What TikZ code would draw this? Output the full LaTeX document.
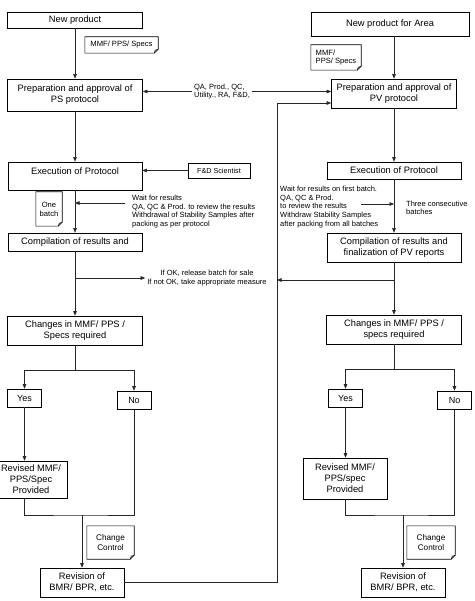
\documentclass[tikz,border=0pt]{standalone}
\usepackage{fontspec}
\setmainfont{Liberation Sans}
\usetikzlibrary{arrows.meta, positioning, calc}

\begin{document}
\begin{tikzpicture}[
        x=1pt, y=-1pt, % pixel grid, y downwards
        box/.style={rectangle, draw=black, line width=0.7pt, align=center, inner sep=1pt, font=\fontsize{9.3}{11}\selectfont},
        choice/.style={box, minimum width=34pt, minimum height=18pt, font=\fontsize{9}{11}\selectfont},
        notebox/.style={align=center, inner sep=1pt, font=\fontsize{7.6}{8.8}\selectfont},
        remark/.style={align=left, inner sep=2pt, font=\fontsize{7.5}{8.6}\selectfont},
        arrow/.style={line width=0.6pt, draw=black!85, -{Triangle[length=4.5pt, width=3.6pt]}},
        link/.style={line width=0.6pt, draw=black!85}
    ]
    \useasboundingbox (0,0) rectangle (474,601);
    \clip (0,0) rectangle (474,601);

    % --- Nodes: PS (left) ---
    \node[box, minimum width=135pt, minimum height=16pt] (newl) at (75,20) {New product};
    \node[notebox, minimum width=73pt, minimum height=16pt] (mmfl) at (121.5,45) {MMF/ PPS/ Specs};
    \node[box, minimum width=135pt, minimum height=32pt] (prepl) at (75,95) {Preparation and approval of\\PS protocol};
    \node[box, minimum width=134pt, minimum height=28pt, text depth=9pt] (execl) at (75,176) {Execution of Protocol};
    \node[box, minimum width=62pt, minimum height=15pt, line width=0.6pt, font=\fontsize{7.2}{8.6}\selectfont] (fdsci) at (219,170.5) {F\&D Scientist};
    \node[notebox, minimum width=26pt, minimum height=34pt] (onebatch) at (49,209) {One\\batch};
    \node[remark, anchor=west] (waitl) at (130,211.5) {Wait for results\\QA, QC \& Prod. to review the results\\ Withdrawal of Stability Samples after\\packing as per protocol};
    \node[box, minimum width=134pt, minimum height=18pt] (compl) at (75,242) {Compilation of results and};
    \node[remark, align=center] (okl) at (207,278) {If OK, release batch for sale\\If not OK, take appropriate measure};
    \node[box, minimum width=135pt, minimum height=29pt] (changel) at (75,330.5) {Changes in MMF/ PPS /\\Specs required};
    \node[choice] (yesl) at (24.5,398) {Yes};
    \node[choice] (nol) at (134,400) {No};
    \node[box, minimum width=72pt, minimum height=37pt] (revl) at (31,479.5) {Revised MMF/\\PPS/Spec\\Provided};
    \node[notebox, minimum width=47pt, minimum height=33pt, font=\fontsize{8.2}{9.6}\selectfont] (ccl) at (110.5,542.5) {Change\\Control};
    \node[box, minimum width=84pt, minimum height=29pt] (revbl) at (82,582.5) {Revision of\\BMR/ BPR, etc.};

    % --- Nodes: PV (right) ---
    \node[box, minimum width=158pt, minimum height=24pt] (newr) at (390,24) {New product for Area};
    \node[notebox, align=left, minimum width=50pt, minimum height=25pt] (mmfr) at (336,57.5) {MMF/\\PPS/ Specs};
    \node[box, minimum width=125pt, minimum height=29pt] (prepr) at (394,93.5) {Preparation and approval of\\PV protocol};
    \node[remark] (qa) at (222,91.5) {QA, Prod., QC,\\Utility., RA, F\&D,};
    \node[box, minimum width=134pt, minimum height=17pt] (execr) at (394,170.5) {Execution of Protocol};
    \node[remark, anchor=west] (waitr) at (278,207) {Wait for results on first batch.\\QA, QC \& Prod.\\to review the results\\Withdraw Stability Samples\\after packing from all batches};
    \node[remark, anchor=west] (three) at (404,208) {Three consecutive\\batches};
    \node[box, minimum width=134pt, minimum height=29pt] (comprr) at (394,247.5) {Compilation of results and\\finalization of PV reports};
    \node[box, minimum width=135pt, minimum height=29pt] (changer) at (394,329.5) {Changes in MMF/ PPS /\\specs required};
    \node[choice] (yesr) at (345.5,398) {Yes};
    \node[choice] (nor) at (454.5,400) {No};
    \node[box, minimum width=84pt, minimum height=41pt] (revr) at (345,478.5) {Revised MMF/\\PPS/spec\\Provided};
    \node[notebox, minimum width=48pt, minimum height=33pt, font=\fontsize{8.2}{9.6}\selectfont] (ccr) at (431,542.5) {Change\\Control};
    \node[box, minimum width=84pt, minimum height=29pt] (revbr) at (403,582.5) {Revision of\\BMR/ BPR, etc.};

    % note outlines with folded corner
    \foreach \n in {mmfl, mmfr, onebatch, ccl, ccr} {
        \draw[line width=0.6pt] (\n.north west) -- (\n.north east) -- ($(\n.south east)+(0,-4)$)
            -- ($(\n.south east)+(-4,0)$) -- (\n.south west) -- cycle;
        \draw[line width=0.5pt] ($(\n.south east)+(-4,0)$) -- ($(\n.south east)+(-3,-3)$) -- ($(\n.south east)+(0,-4)$);
    }

    \coordinate (wl) at (125,203);
    \coordinate (wr) at (361,204);
    \coordinate (jr) at (394,280);
    \coordinate (lp) at (277,103);
    \coordinate (ml) at (82,515);
    \coordinate (mr) at (403,515);

    % --- Edges: left ---
    \draw[arrow] (newl.south) -- (prepl.north);
    \draw[arrow] (qa.west) -- (qa.west -| prepl.east);
    \draw[arrow] (prepl.south) -- (execl.north);
    \draw[arrow] (fdsci.west) -- (fdsci.west -| execl.east);
    \draw[arrow] (execl.south) -- (compl.north);
    \draw[arrow] (wl) -- (wl -| execl.south);
    \draw[arrow] (compl.south) -- (changel.north);
    \draw[arrow] (okl.west -| compl.south) -- (okl.west);
    \draw[link] (changel.south) -- ++(0,25) coordinate (bl);
    \draw[arrow] (bl) -| (yesl.north);
    \draw[arrow] (bl) -| (nol.north);
    \draw[arrow] (yesl.south) -- (yesl.south |- revl.north);
    \draw[link] (yesl.south |- revl.south) |- (ml) -| (nol.south);
    \draw[arrow] (ml) -- (revbl.north);

    % --- Edges: right ---
    \draw[arrow] (newr.south -| prepr.north) -- (prepr.north);
    \draw[arrow] (qa.east) -- (qa.east -| prepr.west);
    \draw[arrow] (prepr.south) -- (execr.north);
    \draw[arrow] (execr.south) -- (comprr.north);
    \draw[arrow] (wr) -- (wr -| execr.south);
    \draw[arrow] (comprr.south) -- (changer.north);
    \draw[arrow] (jr) -- (jr -| lp);
    \draw[link] (changer.south) -- ++(0,25) coordinate (br);
    \draw[arrow] (br) -| (yesr.north);
    \draw[arrow] (br) -| (nor.north);
    \draw[arrow] (yesr.south) -- (yesr.south |- revr.north);
    \draw[link] (revr.south) |- (mr) -| (nor.south);
    \draw[arrow] (mr) -- (revbr.north);

    % loop back into PV protocol
    \draw[arrow] (revbl.east) -| (lp) -- (lp -| prepr.west);

\end{tikzpicture}
\end{document}
